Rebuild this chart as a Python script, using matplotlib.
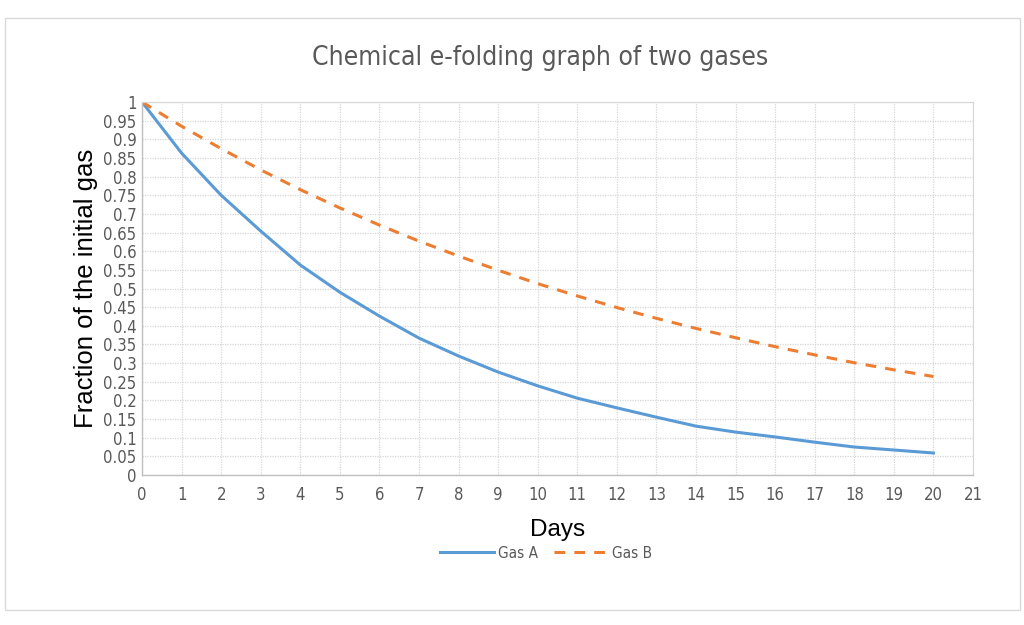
import matplotlib
matplotlib.use("Agg")
import matplotlib.pyplot as plt
from matplotlib.patches import Rectangle
from matplotlib.ticker import MultipleLocator, FuncFormatter
from matplotlib import font_manager as fm

days = list(range(0, 21))
gas_a = [1.0, 0.863, 0.75, 0.654, 0.563, 0.49, 0.426, 0.367, 0.319, 0.276, 0.239,
         0.206, 0.18, 0.155, 0.131, 0.115, 0.102, 0.088, 0.075, 0.067, 0.059]
gas_b = [1.0, 0.935, 0.875, 0.818, 0.765, 0.716, 0.67, 0.627, 0.587, 0.549, 0.513,
         0.48, 0.449, 0.42, 0.393, 0.368, 0.344, 0.322, 0.301, 0.282, 0.264]
series_names = ["Gas A", "Gas B"]
title = "Chemical e-folding graph of two gases"
xlabel = "Days"
ylabel = "Fraction of the initial gas"

names = {f.name for f in fm.fontManager.ttflist}
narrow = "Liberation Sans Narrow" if "Liberation Sans Narrow" in names else "DejaVu Sans"
tick_font = [narrow, "DejaVu Sans"]
stretch = "condensed"

fig = plt.figure(figsize=(10.24, 6.25), dpi=100)
fig.patch.set_facecolor("white")
fig.add_artist(Rectangle((5/1024, 1-610/625), 1015/1024, 592/625, transform=fig.transFigure,
                         fill=False, edgecolor="#d9d9d9", linewidth=1))

ax = fig.add_axes([142/1024, 1-475/625, 831/1024, 373/625])
ax.plot(days, gas_a, color="#5b9bd5", linewidth=2.2, label=series_names[0])
ax.plot(days, gas_b, color="#ed7d31", linewidth=2.2, linestyle=(0, (3.5, 3)), label=series_names[1])

ax.set_xlim(0, 21)
ax.set_ylim(0, 1)
ax.xaxis.set_major_locator(MultipleLocator(1))
ax.yaxis.set_major_locator(MultipleLocator(0.05))
ax.yaxis.set_major_formatter(FuncFormatter(lambda v, p: f"{v:.2f}".rstrip("0").rstrip(".") if v != 0 else "0"))
ax.grid(True, color="#d6d6d6", linestyle=(0, (1, 1)), linewidth=0.9)
ax.set_axisbelow(True)
for s in ["top", "right"]:
    ax.spines[s].set_color("#d6d6d6")
    ax.spines[s].set_linewidth(0.8)
for s in ["left", "bottom"]:
    ax.spines[s].set_color("#bfbfbf")
    ax.spines[s].set_linewidth(1)
ax.tick_params(length=0, colors="#595959", labelsize=12, pad=8)
for lab in ax.get_xticklabels() + ax.get_yticklabels():
    lab.set_family(tick_font)
    lab.set_stretch(stretch)
ax.tick_params(axis="y", pad=4)

fig.text(540/1024, 1-58/625, title, ha="center", va="center", fontsize=19,
         color="#595959", family=tick_font, stretch=stretch)
ax.set_xlabel(xlabel, fontsize=17.5, color="black", family=["Liberation Sans", "DejaVu Sans"], labelpad=11)
ax.set_ylabel(ylabel, fontsize=18.5, color="black", family=["Liberation Sans", "DejaVu Sans"], labelpad=4)

leg = fig.legend(loc="center", bbox_to_anchor=(546/1024, 1-553/625), ncol=2, frameon=False,
                 prop={"family": tick_font, "size": 11, "stretch": stretch}, handlelength=3.5,
                 columnspacing=1.0, handletextpad=0.3)
for t in leg.get_texts():
    t.set_color("#595959")

fig.savefig("out.png", dpi=100)
